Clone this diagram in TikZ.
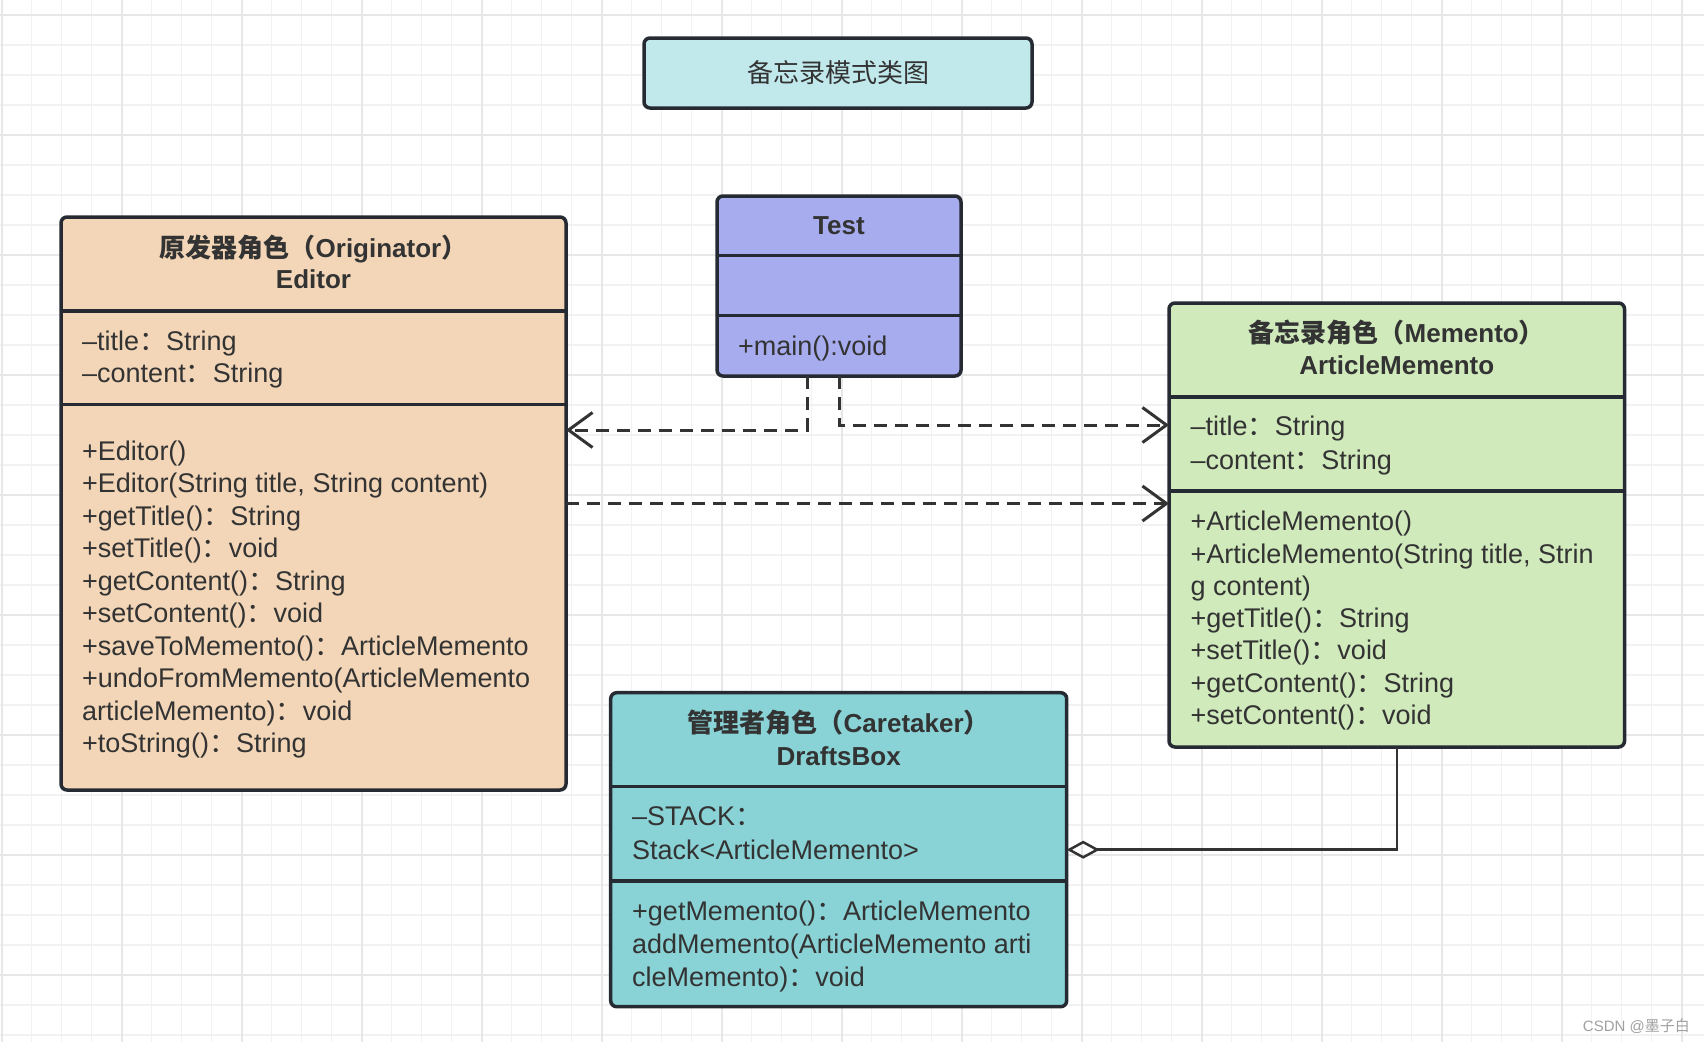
\documentclass[tikz,border=0pt]{standalone}
\usepackage{fontspec}
\setmainfont{Liberation Sans}
\newfontfamily\cjk{Noto Sans CJK SC}
\usetikzlibrary{arrows.meta,calc}
\definecolor{bd}{HTML}{262B33}
\definecolor{txt}{HTML}{333333}
\definecolor{ln}{HTML}{333333}
\definecolor{ctitle}{HTML}{C1E8EB}
\definecolor{ctest}{HTML}{A7ACEE}
\definecolor{cedit}{HTML}{F2D6B7}
\definecolor{cmem}{HTML}{D0EABC}
\definecolor{cdraft}{HTML}{89D2D6}
\definecolor{gmin}{HTML}{F2F2F2}
\definecolor{gmaj}{HTML}{E7E7E7}
\definecolor{wmark}{HTML}{A0A0A0}
\newcommand\cj[1]{{\cjk #1}}
\newcommand\fwc{\cj{：}}
\begin{document}
\begin{tikzpicture}[x=1pt,y=-1pt,
  box/.style={draw=bd, line width=3.5pt, rounded corners=6pt, anchor=north west, inner sep=0pt, outer sep=0pt},
  div/.style={draw=bd, line width=3.5pt},
  body/.style={anchor=base west, inner sep=0pt, text=txt, font=\fontsize{27}{32}\selectfont},
  head/.style={anchor=base, inner sep=0pt, text=txt, font=\fontsize{26}{30}\selectfont\bfseries},
  dep/.style={draw=ln, line width=3pt, dash pattern=on 13pt off 8pt, -{Straight Barb[length=24pt,width=35pt]}},
  agg/.style={draw=ln, line width=2.5pt, -{Diamond[open,length=33pt,width=18pt]}},
]
\useasboundingbox (0,0) rectangle (1704,1042);
\fill[white] (0,0) rectangle (1704,1042);
% grid
\foreach \k in {0,...,56} \draw[gmin, line width=1.5pt] ({1.7+30*\k},0) -- ({1.7+30*\k},1042);
\foreach \k in {0,...,34} \draw[gmin, line width=1.5pt] (0,{15+30*\k}) -- (1704,{15+30*\k});
\foreach \k in {0,...,14} \draw[gmaj, line width=2pt] ({1.7+120*\k},0) -- ({1.7+120*\k},1042);
\foreach \k in {0,...,8} \draw[gmaj, line width=2pt] (0,{15+120*\k}) -- (1704,{15+120*\k});

% title
\node[box, fill=ctitle, minimum width=388pt, minimum height=70pt, text=txt, font=\fontsize{26}{30}\selectfont\cjk] (title) at (644,38) {备忘录模式类图};

% Test
\node[box, fill=ctest, minimum width=244pt, minimum height=180pt] (test) at (717,196) {};
\draw[div] ($(test.north west)+(0,59.5)$) -- ($(test.north east)+(0,59.5)$);
\draw[div] ($(test.north west)+(0,119.5)$) -- ($(test.north east)+(0,119.5)$);
\node[head] (testh) at (839,234.7) {Test};
\node[body] (testm) at (738,355.7) {+main():void};

% Editor
\node[box, fill=cedit, minimum width=505pt, minimum height=573pt] (editor) at (61,217) {};
\draw[div] ($(editor.north west)+(0,94)$) -- ($(editor.north east)+(0,94)$);
\draw[div] ($(editor.north west)+(0,187.5)$) -- ($(editor.north east)+(0,187.5)$);
\node[head] (edh1) at (313.5,257.8) {\cj{原发器角色（}Originator\cj{）}};
\node[head] (edh2) at (313.5,288.8) {Editor};
\node[body] (eda1) at (82,350.7) {–title\fwc String};
\node[body] (eda2) at (82,382.3) {–content\fwc String};
\foreach \t [count=\i] in {{+Editor()},{+Editor(String title, String content)},{+getTitle()\fwc String},{+setTitle()\fwc void},{+getContent()\fwc String},{+setContent()\fwc void},{+saveToMemento()\fwc ArticleMemento},{+undoFromMemento(ArticleMemento},{articleMemento)\fwc void},{+toString()\fwc String}}
  \node[body] (edm\i) at (82,{460+32.55*(\i-1)}) {\t};

% Memento
\node[box, fill=cmem, minimum width=455.5pt, minimum height=444pt] (memento) at (1169,303) {};
\draw[div] ($(memento.north west)+(0,94)$) -- ($(memento.north east)+(0,94)$);
\draw[div] ($(memento.north west)+(0,188)$) -- ($(memento.north east)+(0,188)$);
\node[head] (meh1) at (1396.75,342.5) {\cj{备忘录角色（}Memento\cj{）}};
\node[head] (meh2) at (1396.75,374.2) {ArticleMemento};
\node[body] (mea1) at (1190.5,435.7) {–title\fwc String};
\node[body] (mea2) at (1190.5,469) {–content\fwc String};
\foreach \t [count=\i] in {{+ArticleMemento()},{+ArticleMemento(String title, Strin},{g content)},{+getTitle()\fwc String},{+setTitle()\fwc void},{+getContent()\fwc String},{+setContent()\fwc void}}
  \node[body] (mem\i) at (1190.5,{530.7+32.3*(\i-1)}) {\t};

% DraftsBox
\node[box, fill=cdraft, minimum width=456pt, minimum height=314pt] (drafts) at (610.7,692.7) {};
\draw[div] ($(drafts.north west)+(0,94)$) -- ($(drafts.north east)+(0,94)$);
\draw[div] ($(drafts.north west)+(0,188.3)$) -- ($(drafts.north east)+(0,188.3)$);
\node[head] (drh1) at (838.7,732.2) {\cj{管理者角色（}Caretaker\cj{）}};
\node[head] (drh2) at (838.7,765.9) {DraftsBox};
\node[body] (dra1) at (632,825.7) {–STACK\fwc};
\node[body] (dra2) at (632,859.7) {Stack<ArticleMemento>};
\node[body] (drm1) at (632,920.7) {+getMemento()\fwc ArticleMemento};
\node[body] (drm2) at (632,953.3) {addMemento(ArticleMemento arti};
\node[body] (drm3) at (632,986) {cleMemento)\fwc void};

% connectors
\coordinate (t1) at ($(test.south)+(-32,0)$);
\draw[dep] (t1) |- ($(editor.east)+(0,-73.5)$);
\draw[dep] (test.south) |- ($(memento.west)+(0,-100)$);
\draw[dep] (editor.east) -- (editor.east -| memento.west);
\draw[agg] (memento.south) |- (drafts.east);

% watermark
\node[anchor=east, inner sep=0pt, text=wmark, font=\fontsize{15}{18}\selectfont] (wm) at (1690,1026.5) {CSDN @\cj{墨子白}};
\end{tikzpicture}
\end{document}
